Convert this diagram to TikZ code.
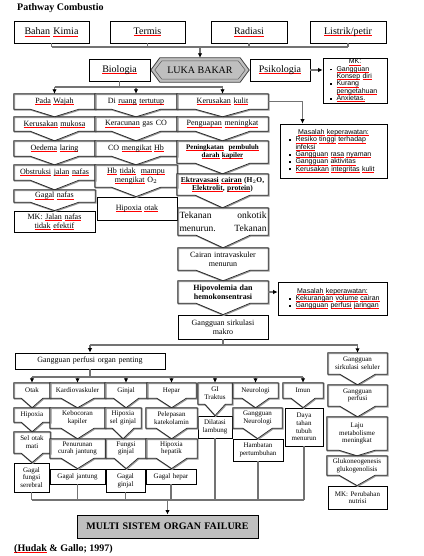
\documentclass[tikz,border=0pt]{standalone}
\usepackage{fontspec}
\setmainfont{Liberation Serif}
\newfontfamily\sansf{Liberation Sans}
\usetikzlibrary{calc,arrows.meta}
\pgfdeclarelayer{bg}
\pgfsetlayers{bg,main}
\newcommand\rw[1]{\setbox0\hbox{#1}\leavevmode\rlap{\textcolor{red}{\rule[-1.4pt]{\wd0}{0.6pt}}}\box0\relax}
\newcommand\itm[1]{\par\leavevmode\llap{\rule[0.8pt]{1.8pt}{1.8pt}\hspace{5pt}}#1}
\newcommand\bx[7][]{%
 \pgfmathsetmacro\bxW{#5-#3}%
 \pgfmathsetmacro\bxH{#6-#4}%
 \pgfmathsetmacro\bxX{(#3+#5)/2}%
 \pgfmathsetmacro\bxY{-(#4+#6)/2}%
 \pgfmathsetmacro\bxT{#5-#3-3}%
 \node[box, minimum width=\bxW pt, minimum height=\bxH pt, text width=\bxT pt, #1] (#2) at (\bxX,\bxY) {#7};}
\newcommand\vout[2]{%
 \draw[vsh] (#1.north west) -- (#1.north east) -- (#1.south east) -- ($(#1.south east)!0.2!(#1.south west)$) -- (#1.south |- #2.north) -- ($(#1.south west)!0.2!(#1.south east)$) -- (#1.south west) -- cycle;
 \draw[vline] (#1.north west) -- (#1.north east) -- (#1.south east) -- ($(#1.south east)!0.2!(#1.south west)$) -- (#1.south |- #2.north) -- ($(#1.south west)!0.2!(#1.south east)$) -- (#1.south west) -- cycle;}
\begin{document}
\begin{tikzpicture}[x=1pt,y=1pt,
 box/.style={inner xsep=1.5pt, inner ysep=0pt, align=center, fill=white, font=\fontsize{8}{9}\selectfont},
 pl/.style={draw=black, line width=0.8pt},
 f10/.style={font=\fontsize{10}{11}\selectfont},
 f8/.style={font=\fontsize{8}{9}\selectfont},
 f8b/.style={font=\bfseries\fontsize{8}{9}\selectfont},
 f7/.style={font=\fontsize{7}{7.8}\selectfont},
 f7b/.style={font=\bfseries\fontsize{7}{8}\selectfont},
 mk/.style={draw=black, line width=0.8pt, align=left, font=\sansf\fontsize{7}{7.3}\selectfont},
 vline/.style={draw=black!85, line width=0.7pt, line join=miter},
 vsh/.style={draw=black!40, line width=1.3pt, transform canvas={shift={(0.7pt,-0.7pt)}}},
 conn/.style={draw=black!55, line width=1.2pt},
 arr/.style={conn, -{Latex[length=4.5pt,width=4.5pt,color=black]}}]
\useasboundingbox (0,0) rectangle (423,-556);
\begin{pgfonlayer}{bg}
\fill[white] (0,0) rectangle (423,-556);
\end{pgfonlayer}

\node[anchor=west, inner sep=0, font=\bfseries\fontsize{10}{12}\selectfont] (title) at (17,-8) {Pathway Combustio};

% row 1
\bx[pl,f10]{bk}{14}{21}{89}{43}{\rw{Bahan} \rw{Kimia}}
\bx[pl,f10]{tm}{110}{21}{185}{43}{\rw{Termis}}
\bx[pl,f10]{rd}{211}{21}{287}{43}{\rw{Radiasi}}
\bx[pl,f10]{lp}{310}{21}{386}{43}{\rw{Listrik/petir}}

% row 2
\bx[pl,f10]{bio}{89}{59}{150}{81}{\rw{Biologia}}
\node[inner sep=0, minimum width=98pt, minimum height=24pt, font=\fontsize{10}{11}\selectfont] (luka) at (200,-70) {LUKA BAKAR};
\begin{pgfonlayer}{bg}
\draw[fill=black!25, draw=black!75, line width=0.8pt] (luka.west) -- ([xshift=9pt]luka.north west) -- ([xshift=-9pt]luka.north east) -- (luka.east) -- ([xshift=-9pt]luka.south east) -- ([xshift=9pt]luka.south west) -- cycle;
\draw[black!65, line width=0.5pt] ([xshift=4pt]luka.west) -- ([xshift=11pt,yshift=-3pt]luka.north west) -- ([xshift=-11pt,yshift=-3pt]luka.north east) -- ([xshift=-4pt]luka.east) -- ([xshift=-11pt,yshift=3pt]luka.south east) -- ([xshift=11pt,yshift=3pt]luka.south west) -- cycle;
\end{pgfonlayer}
\bx[pl,f10]{psi}{250}{59}{310}{81}{\rw{Psikologia}}
\bx[mk]{mk1}{323}{58}{387}{103}{\parindent=0pt{\centering\rw{MK:}\par}\leftskip=12pt \itm{\rw{Gangguan} \rw{Konsep} \rw{diri}}\itm{\rw{Kurang} \rw{pengetahuan}}\itm{\rw{Anxietas.}}\par}
\bx[mk]{mk2}{280}{124}{387}{178}{\parindent=0pt{\centering\rw{Masalah} \rw{keperawatan:}\par}\leftskip=14pt \itm{\rw{Resiko} \rw{tinggi} \rw{terhadap} \rw{infeksi}}\itm{\rw{Gangguan} \rw{rasa} \rw{nyaman}}\itm{\rw{Gangguan} \rw{aktivitas}}\itm{\rw{Kerusakan} \rw{integritas} \rw{kulit}}\par}
\bx[mk]{mk3}{278}{282}{387}{315}{\parindent=0pt{\centering\rw{Masalah} \rw{keperawatan:}\par}\leftskip=16pt \itm{\rw{Kekurangan} \rw{volume} \rw{cairan}}\itm{\rw{Gangguan} \rw{perfusi} \rw{jaringan}}\par}

% left/middle/right columns
\bx[f8]{pw}{14}{94}{95}{109}{\rw{Pada} \rw{Wajah}}
\bx[f8]{dr}{95}{94}{177}{109}{Di \rw{ruang} \rw{tertutup}}
\bx[f8]{kk}{177}{94}{268}{109}{\rw{Kerusakan} \rw{kulit}}
\bx[f8]{km}{14}{117}{95}{131}{\rw{Kerusakan} \rw{mukosa}}
\bx[f8]{kg}{95}{117}{177}{131}{\rw{Keracunan} gas CO}
\bx[f8]{pm}{177}{117}{268}{131}{\rw{Penguapan} \rw{meningkat}}
\bx[f8]{ol}{14}{141}{95}{156}{\rw{Oedema} \rw{laring}}
\bx[f8]{ch}{95}{141}{177}{156}{CO \rw{mengikat} \rw{Hb}}
\bx[f7b]{pk}{177}{141}{268}{163}{\rw{Peningkatan}~ \rw{pembuluh}\\\rw{darah} \rw{kapiler}}
\bx[f8]{oj}{14}{165}{95}{180}{\rw{Obstruksi} \rw{jalan} \rw{nafas}}
\bx[f8]{hb}{95}{165}{177}{187}{\rw{Hb} \rw{tidak}~ \rw{mampu}\\\rw{mengikat} O$_2$}
\bx[font=\bfseries\fontsize{7.5}{8.5}\selectfont]{ek}{177}{174}{268}{195}{\rw{Ektravasasi} \rw{cairan} (H$_2$O,\\\rw{Elektrolit}, \rw{protein})}
\bx[f8]{gn}{14}{190}{95}{202}{\rw{Gagal} \rw{nafas}}
\bx[pl,f8]{mkj}{14}{211}{95}{232}{MK: \rw{Jalan} \rw{nafas}\\\rw{tidak} \rw{efektif}}
\bx[pl,f8]{ho}{97}{197}{177}{220}{\rw{Hipoxia} \rw{otak}}
\bx[font=\fontsize{9.5}{13}\selectfont]{tk}{178}{208}{268}{235}{Tekanan\hfill onkotik\\menurun.\hfill Tekanan}
\bx[f8]{ci}{178}{248}{268}{270}{Cairan intravaskuler\\menurun}
\bx[f8b]{hv}{178}{281}{268}{303}{Hipovolemia dan\\hemokonsentrasi}
\bx[pl,f8]{sm}{178}{315}{268}{339}{Gangguan sirkulasi\\makro}

% lower part
\bx[pl,f8]{gp}{15}{353}{165}{369}{Gangguan perfusi organ penting}
\bx[f7]{gs}{328}{353}{387}{374}{Gangguan\\sirkulasi seluler}
\bx[f7]{ot}{14}{383}{50}{398}{Otak}
\bx[f7]{kv}{50}{383}{105}{398}{Kardiovaskuler}
\bx[f7]{gj}{105}{383}{147}{398}{Ginjal}
\bx[f7]{hp}{147}{383}{196}{398}{Hepar}
\bx[f7]{gi}{198}{383}{232}{404}{GI\\Traktus}
\bx[f7]{ne}{233}{383}{278}{398}{Neurologi}
\bx[f7]{im}{283}{383}{323}{398}{Imun}
\bx[f7]{gpf}{328}{385}{387}{406}{Gangguan\\perfusi}

\bx[f7]{hx}{14}{408}{50}{422}{Hipoxia}
\bx[f7]{kb}{50}{408}{105}{428}{Kebocoran\\kapiler}
\bx[f7]{hs}{105}{408}{141}{428}{Hipoxia\\sel ginjal}
\bx[f7]{pl2}{146}{408}{197}{428}{Pelepasan\\katekolamin}
\bx[pl,f7]{dl}{198}{416}{232}{438}{Dilatasi\\lambung}
\bx[f7]{gnr}{233}{408}{282}{428}{Gangguan\\Neurologi}
\bx[pl,f7]{dt}{285}{408}{323}{446}{Daya\\tahan\\tubuh\\menurun}
\bx[f7]{lm}{327}{417}{387}{450}{Laju\\metabolisme\\meningkat}

\bx[f7]{so}{14}{432}{50}{453}{Sel otak\\mati}
\bx[f7]{pc}{50}{439}{105}{458}{Penurunan\\curah jantung}
\bx[f7]{fg}{106}{439}{146}{458}{Fungsi\\ginjal}
\bx[f7]{hh}{146}{439}{197}{458}{Hipoxia\\hepatik}
\bx[pl,f7]{hbp}{233}{439}{283}{461}{Hambatan\\pertumbuhan}
\bx[f7]{gl}{327}{456}{387}{475}{Glukoneogenesis\\glukogenolisis}

\bx[pl,f7]{gf}{14}{463}{49}{492}{Gagal\\fungsi\\serebral}
\bx[pl,f7]{gjt}{50}{469}{105}{484}{Gagal jantung}
\bx[pl,f7]{ggj}{106}{469}{145}{492}{Gagal\\ginjal}
\bx[pl,f7]{ghp}{146}{469}{196}{484}{Gagal hepar}
\bx[pl,f7]{mkn}{328}{486}{387}{509}{MK: Perubahan\\nutrisi}

\bx[draw=black, line width=1pt, fill=black!25, font=\bfseries\fontsize{10}{11}\selectfont]{multi}{77}{515}{258}{538}{MULTI SISTEM ORGAN FAILURE}
\node[anchor=west, inner sep=0, font=\bfseries\fontsize{10}{12}\selectfont] (ref) at (14,-549) {\rw{(Hudak} \& Gallo; 1997)};

% V-shaped outlines
\vout{pw}{km}\vout{km}{ol}\vout{ol}{oj}\vout{oj}{gn}\vout{gn}{mkj}
\vout{dr}{kg}\vout{kg}{ch}\vout{ch}{hb}\vout{hb}{ho}
\vout{kk}{pm}\vout{pm}{pk}\vout{pk}{ek}\vout{ek}{tk}\vout{tk}{ci}\vout{ci}{hv}\vout{hv}{sm}
\vout{gs}{gpf}\vout{gpf}{lm}\vout{lm}{gl}\vout{gl}{mkn}
\vout{ot}{hx}\vout{hx}{so}\vout{so}{gf}
\vout{kv}{kb}\vout{kb}{pc}\vout{pc}{gjt}
\vout{gj}{hs}\vout{hs}{fg}\vout{fg}{ggj}
\vout{hp}{pl2}\vout{pl2}{hh}\vout{hh}{ghp}
\vout{gi}{dl}\vout{ne}{gnr}\vout{gnr}{hbp}\vout{im}{dt}

% connectors
\coordinate (h1) at (0,-47);
\foreach \n in {bk,tm,rd,lp} \draw[conn] (\n.south) -- (\n.south |- h1);
\draw[conn] (bk.south |- h1) -- (lp.south |- h1);
\draw[arr] (luka.north |- h1) -- (luka.north);

\coordinate (h2) at (0,-87);
\draw[conn] (bio.south) -- (bio.south |- h2);
\draw[conn] (pw.north |- h2) -- (kk.north |- h2);
\foreach \n in {pw,dr,kk} \draw[arr] (\n.north |- h2) -- (\n.north);

\draw[arr] (psi.east) -- (mk1.west |- psi.east);
\draw[arr] (kk.east) -| ([xshift=-31pt]mk2.north);
\draw[arr] (hv.east) -- (mk3.west |- hv.east);

\coordinate (h3) at (0,-345);
\draw[conn] (sm.south) -- (sm.south |- h3);
\draw[conn] (gp.north |- h3) -- (gs.north |- h3);
\draw[arr] (gp.north |- h3) -- (gp.north);
\draw[arr] (gs.north |- h3) -- (gs.north);

\coordinate (h4) at (0,-377);
\draw[conn] (gp.south) -- (gp.south |- h4);
\draw[conn] (ot.north |- h4) -- (im.north |- h4);
\foreach \n in {ot,kv,gj,hp,gi,ne,im} \draw[arr] (\n.north |- h4) -- (\n.north);

\coordinate (h5) at (0,-500);
\foreach \n in {gf,gjt,ggj,ghp,dl,hbp,dt} \draw[conn] (\n.south) -- (\n.south |- h5);
\draw[conn] (gf.south |- h5) -- (dt.south |- h5);
\draw[arr] (multi.north |- h5) -- (multi.north);
\end{tikzpicture}
\end{document}
